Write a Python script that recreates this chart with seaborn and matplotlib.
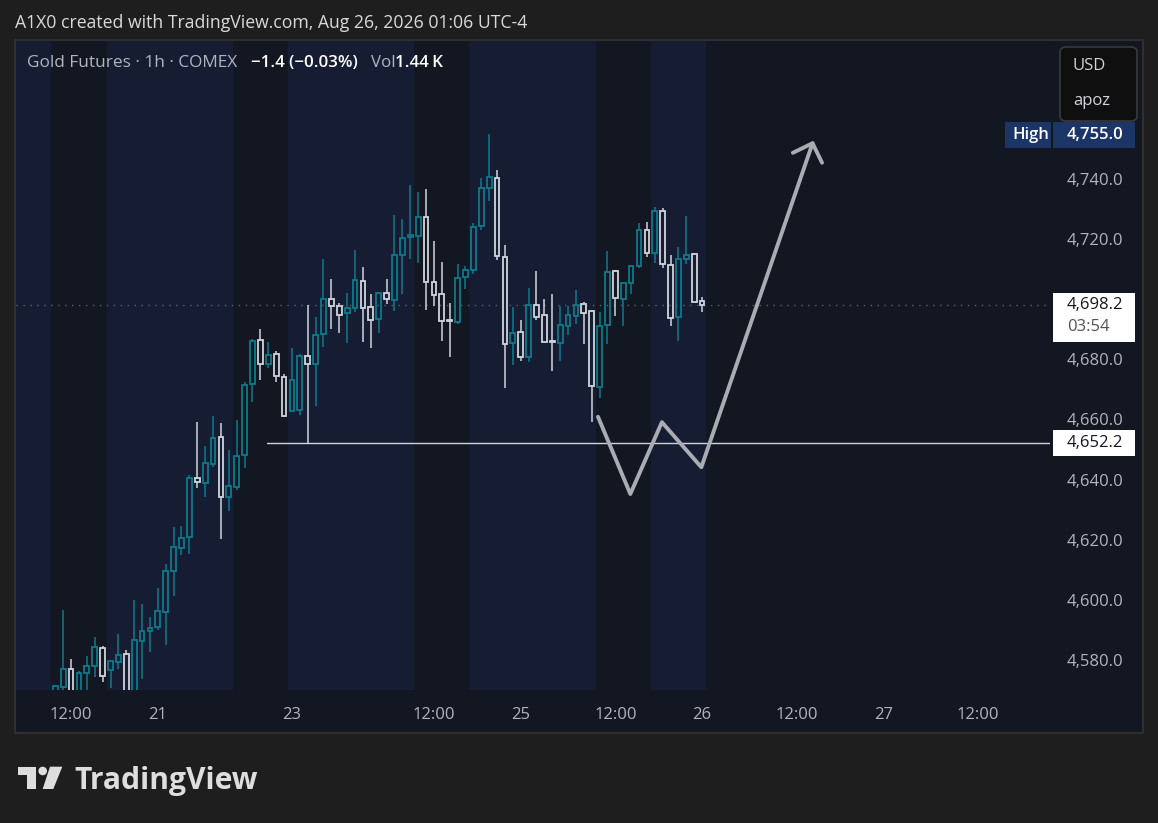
import numpy as np
import pandas as pd
import matplotlib
matplotlib.use('Agg')
import matplotlib.pyplot as plt
from matplotlib.patches import Rectangle, FancyBboxPatch, Polygon, Ellipse
from matplotlib.transforms import blended_transform_factory
import seaborn as sns

# ---- data: Gold Futures, 1h bars (bar 0 = Thu 20 10:00) ----
bars = list(range(83))
opens = [4569.5, 4571.1, 4576.9, 4568.5, 4575.6, 4577.9, 4583.9, 4576.6, 4579.2, 4581.9,
         4567.5, 4586.2, 4589.5, 4590.9, 4596.0, 4609.6, 4617.2, 4620.9, 4640.5, 4638.9,
         4645.2, 4654.2, 4634.2, 4637.5, 4648.2, 4671.8, 4686.4, 4678.5, 4681.8, 4674.1,
         4662.8, 4663.2, 4681.1, 4678.5, 4688.4, 4700.1, 4697.8, 4695.4, 4697.1, 4706.1,
         4697.4, 4693.4, 4702.1, 4699.7, 4714.7, 4720.7, 4721.0, 4727.4, 4705.7, 4701.7,
         4692.9, 4692.4, 4707.4, 4709.7, 4724.4, 4737.0, 4740.3, 4714.1, 4685.4, 4689.1,
         4680.8, 4698.1, 4694.8, 4685.9, 4685.4, 4691.1, 4694.4, 4698.4, 4696.1, 4670.8,
         4691.4, 4709.4, 4700.1, 4705.4, 4711.1, 4723.0, 4715.4, 4729.4, 4711.4, 4694.1,
         4713.4, 4715.1, 4699.4]
highs = [4571.6, 4596.6, 4580.4, 4576.3, 4581.3, 4587.5, 4584.5, 4579.6, 4588.5, 4583.2,
         4599.9, 4598.5, 4594.2, 4603.9, 4611.9, 4624.2, 4624.6, 4641.5, 4659.2, 4651.2,
         4661.2, 4658.8, 4649.8, 4659.8, 4672.5, 4686.8, 4690.1, 4685.8, 4682.8, 4675.1,
         4683.8, 4681.8, 4698.1, 4694.1, 4713.4, 4706.7, 4698.7, 4702.1, 4716.4, 4710.7,
         4701.7, 4702.4, 4706.7, 4728.0, 4726.7, 4738.0, 4735.7, 4736.7, 4719.4, 4712.4,
         4698.7, 4711.7, 4711.1, 4725.4, 4740.3, 4755.0, 4743.0, 4718.0, 4697.4, 4693.1,
         4703.7, 4709.4, 4700.1, 4701.7, 4697.8, 4697.8, 4703.1, 4699.1, 4696.1, 4695.8,
         4716.0, 4709.7, 4705.4, 4711.4, 4725.4, 4725.7, 4730.7, 4730.4, 4714.7, 4717.4,
         4727.7, 4715.4, 4700.7]
lows = [4567.0, 4568.0, 4565.0, 4566.5, 4568.5, 4574.4, 4572.8, 4570.8, 4576.9, 4565.0,
        4566.0, 4573.8, 4582.5, 4590.0, 4585.0, 4601.3, 4614.9, 4615.2, 4637.2, 4634.2,
        4644.2, 4620.2, 4629.6, 4636.5, 4643.9, 4665.8, 4673.1, 4677.1, 4672.5, 4660.8,
        4662.8, 4661.5, 4652.2, 4664.5, 4684.1, 4690.1, 4688.8, 4685.4, 4695.8, 4685.8,
        4683.8, 4688.8, 4698.4, 4696.1, 4701.7, 4713.4, 4712.1, 4696.4, 4697.8, 4686.1,
        4680.8, 4691.8, 4703.4, 4708.4, 4723.0, 4732.7, 4713.1, 4670.5, 4678.1, 4679.5,
        4679.1, 4693.1, 4685.8, 4676.1, 4679.5, 4688.1, 4691.8, 4685.1, 4659.2, 4667.1,
        4685.1, 4694.4, 4691.1, 4701.7, 4710.4, 4714.1, 4712.1, 4710.4, 4691.1, 4686.1,
        4711.7, 4699.1, 4695.8]
closes = [4571.2, 4576.9, 4568.0, 4575.6, 4577.9, 4584.2, 4574.6, 4579.6, 4581.6, 4567.5,
          4586.5, 4589.5, 4590.5, 4596.2, 4609.6, 4617.6, 4620.6, 4640.5, 4639.2, 4645.5,
          4653.8, 4634.2, 4637.9, 4647.9, 4671.5, 4686.1, 4678.5, 4681.5, 4674.5, 4661.2,
          4673.1, 4681.1, 4678.5, 4688.1, 4700.1, 4697.8, 4694.8, 4697.1, 4706.4, 4697.1,
          4693.1, 4702.1, 4700.1, 4714.7, 4720.4, 4721.4, 4727.4, 4705.7, 4701.4, 4692.8,
          4692.7, 4707.1, 4709.7, 4724.0, 4737.0, 4740.7, 4714.4, 4685.1, 4688.8, 4680.8,
          4698.1, 4694.1, 4685.8, 4685.7, 4691.4, 4694.8, 4698.1, 4695.4, 4671.1, 4691.1,
          4709.1, 4700.4, 4705.4, 4711.1, 4723.0, 4715.4, 4729.4, 4711.7, 4693.8, 4713.4,
          4714.7, 4699.1, 4698.2]

# session highlight (18:00 - 09:59) in bar units
sess_start = [-6.5, 6.5, 29.5, 52.5, 75.5]
sess_end = [-0.5, 22.5, 45.5, 68.5, 82.5]

tick_bars = [2, 13, 30, 48, 59, 71, 82, 94, 105, 117]
tick_labels = ['12:00', '21', '23', '12:00', '25', '12:00', '26', '12:00', '27', '12:00']
price_ticks = [4580, 4600, 4620, 4640, 4660, 4680, 4720, 4740]

support_level = 4652.2
support_from = 26.8
high_level = 4755.0
last_price = 4698.2

# drawn projection path (bar, price)
path_bar = [68.8, 72.9, 76.9, 81.9, 96.0]
path_price = [4660.9, 4635.2, 4659.1, 4644.1, 4751.9]
head_bar = [93.5, 96.0, 97.2]
head_price = [4748.7, 4751.9, 4745.4]

# ---- style ----
BG_OUT = '#1e1e1e'
PANEL = '#131722'
SESSION = '#161d33'
TEAL = '#0d7a8c'
WHITE = '#d1d4dc'
AXTXT = '#b2b5be'

sns.set_theme(style='dark', rc={'axes.facecolor': PANEL, 'figure.facecolor': BG_OUT})
plt.rcParams['font.family'] = ['Open Sans', 'DejaVu Sans']

W, H = 1158, 823
fig = plt.figure(figsize=(W / 100, H / 100), dpi=100)


def fx(p):
    return p / W


def fy(p):
    return 1 - p / H


fig.add_artist(Rectangle((fx(15), fy(733)), fx(1143) - fx(15), fy(40) - fy(733),
                         transform=fig.transFigure, facecolor=PANEL,
                         edgecolor='#2f2f2f', lw=1.5, zorder=-2))

ax = fig.add_axes([fx(16), fy(690), fx(1050) - fx(16), fy(41) - fy(690)])
ax.set_facecolor(PANEL)
for s in ax.spines.values():
    s.set_visible(False)
ax.grid(False)

x_lo, x_hi = -4.98, 126.1
ax.set_xlim(x_lo, x_hi)
ax.set_ylim(4570.0, 4785.9)

for s, e in zip(sess_start, sess_end):
    ax.axvspan(s, e, color=SESSION, lw=0, zorder=0)

df = pd.DataFrame({'bar': bars, 'o': opens, 'h': highs, 'l': lows, 'c': closes})
up = df['c'] >= df['o']
cols = np.where(up, TEAL, WHITE)
top = df[['o', 'c']].max(axis=1)
bot = df[['o', 'c']].min(axis=1)

ax.axhline(last_price, color='#5d606b', lw=1, ls=(0, (1, 4)), zorder=1)

ax.vlines(df['bar'], top, df['h'], colors=cols, lw=1.1, zorder=3)
ax.vlines(df['bar'], df['l'], bot, colors=cols, lw=1.1, zorder=3)
ax.bar(df['bar'], np.maximum(top - bot, 0.3), bottom=bot, width=0.6,
       facecolor='none', edgecolor=cols, linewidth=1.3, zorder=4)

ax.plot([support_from, x_hi], [support_level, support_level], color=WHITE, lw=1, zorder=2)

sns.lineplot(x=path_bar, y=path_price, sort=False, estimator=None, ax=ax,
             color='#a9acb3', lw=2.8, zorder=5)
sns.lineplot(x=head_bar, y=head_price, sort=False, estimator=None, ax=ax,
             color='#a9acb3', lw=2.8, zorder=5)

ax.set_xticks(tick_bars)
ax.set_xticklabels(tick_labels)
ax.yaxis.tick_right()
ax.set_yticks(price_ticks)
ax.set_yticklabels([f'{v:,.1f}' for v in price_ticks])
ax.tick_params(axis='x', length=0, pad=12, labelsize=12, labelcolor=AXTXT)
ax.tick_params(axis='y', length=0, pad=12, labelsize=12, labelcolor=AXTXT)
ax.set_xlabel('')
ax.set_ylabel('')

# ---- price scale labels ----
tr = blended_transform_factory(fig.transFigure, ax.transData)
ppx = 1 / 3.006  # price per pixel

ax.add_patch(Rectangle((fx(1005), high_level - 14 * ppx), fx(1051) - fx(1005), 26 * ppx,
                       transform=tr, facecolor='#1b3567', lw=0, clip_on=False, zorder=6))
ax.add_patch(Rectangle((fx(1053), high_level - 14 * ppx), fx(1135) - fx(1053), 26 * ppx,
                       transform=tr, facecolor='#1b3567', lw=0, clip_on=False, zorder=6))
ax.text(fx(1012), high_level - 1 * ppx, 'High', transform=tr, color='white', fontsize=12,
        fontweight='semibold', va='center', ha='left', zorder=7)
ax.text(fx(1067), high_level - 1 * ppx, f'{high_level:,.1f}', transform=tr, color='white',
        fontsize=12, fontweight='semibold', va='center', ha='left', zorder=7)

ax.add_patch(Rectangle((fx(1053), last_price - 37 * ppx), fx(1135) - fx(1053), 49 * ppx,
                       transform=tr, facecolor='white', lw=0, clip_on=False, zorder=6))
ax.text(fx(1067), last_price, f'{last_price:,.1f}', transform=tr, color='#131722',
        fontsize=12, va='center', ha='left', zorder=7)
ax.text(fx(1067), last_price - 22 * ppx, '03:54', transform=tr, color='#50535e',
        fontsize=12, va='center', ha='left', zorder=7)

ax.add_patch(Rectangle((fx(1053), support_level - 13 * ppx), fx(1135) - fx(1053), 26 * ppx,
                       transform=tr, facecolor='white', lw=0, clip_on=False, zorder=6))
ax.text(fx(1067), support_level, f'{support_level:,.1f}', transform=tr, color='#131722',
        fontsize=12, va='center', ha='left', zorder=7)

# currency / unit box
fig.add_artist(FancyBboxPatch((fx(1060), fy(121)), fx(1137) - fx(1060), fy(47) - fy(121),
                              boxstyle='round,pad=0,rounding_size=0.006',
                              transform=fig.transFigure, facecolor='#0f0f0f',
                              edgecolor='#3a3a3a', lw=1.2, zorder=5))
fig.text(fx(1073), fy(66), 'USD', color=WHITE, fontsize=12, va='center', ha='left', zorder=6)
fig.text(fx(1073), fy(101), 'apoz', color=WHITE, fontsize=12, va='center', ha='left', zorder=6)

# ---- header texts ----
fig.text(fx(15), fy(23), 'A1X0 created with TradingView.com, Aug 26, 2026 01:06 UTC-4',
         color='#d9d9d9', fontsize=12.7, va='center', ha='left')
fig.text(fx(27), fy(63), 'Gold Futures · 1h · COMEX', color=AXTXT, fontsize=12.4,
         va='center', ha='left')
fig.text(fx(251), fy(63), '\u22121.4 (\u22120.03%)', color='white', fontsize=12.2,
         fontweight='semibold', va='center', ha='left')
fig.text(fx(371), fy(63), 'Vol', color=AXTXT, fontsize=12.2, va='center', ha='left')
fig.text(fx(395), fy(63), '1.44\u2009K', color='white', fontsize=12.2,
         fontweight='semibold', va='center', ha='left')

# ---- TradingView logo ----
LOGO = '#dedede'
logo_stem = [(18.3, 766.7), (35.7, 766.7), (35.7, 789), (26.7, 789), (26.7, 775.3), (18.3, 775.3)]
fig.add_artist(Polygon([(fx(a), fy(b)) for a, b in logo_stem], closed=True,
                       transform=fig.transFigure, facecolor=LOGO, lw=0))
logo_slash = [(50, 766.7), (62.3, 766.7), (53.3, 789), (42.7, 789)]
fig.add_artist(Polygon([(fx(a), fy(b)) for a, b in logo_slash], closed=True,
                       transform=fig.transFigure, facecolor=LOGO, lw=0))
fig.add_artist(Ellipse((fx(42.7), fy(771)), 8.6 / W, 8.6 / H,
                       transform=fig.transFigure, facecolor=LOGO, lw=0))
fig.text(fx(74), fy(789), 'TradingView', color=LOGO, fontsize=21.6, fontweight='bold',
         va='baseline', ha='left')

fig.savefig('out.png', dpi=100, facecolor=fig.get_facecolor())
